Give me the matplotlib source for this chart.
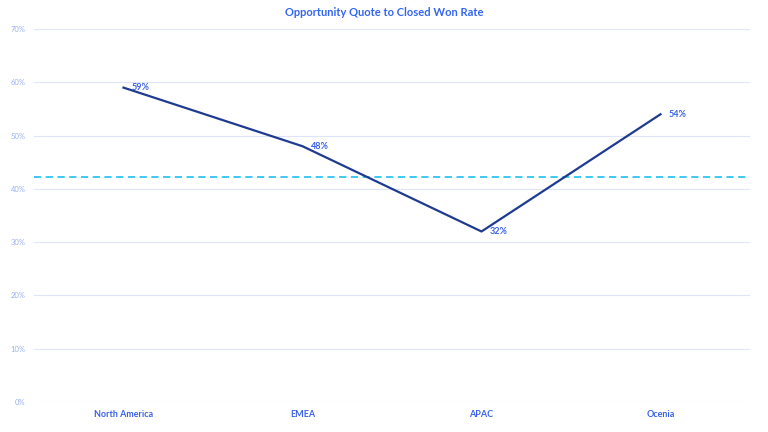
import matplotlib
matplotlib.use("Agg")
import matplotlib.pyplot as plt
from matplotlib.ticker import FuncFormatter, MultipleLocator

regions = ["North America", "EMEA", "APAC", "Ocenia"]
rates = [59, 48, 32, 54]
target = 42.2

plt.rcParams['font.family'] = ['Lato', 'DejaVu Sans']

fig = plt.figure(figsize=(7.68, 4.32), dpi=100)
ax = fig.add_axes([34/768, 1 - 402/432, (750-34)/768, (402-29)/432])

x = list(range(len(regions)))
ax.plot(x, rates, color="#1f3b8f", lw=1.6, zorder=3)
ax.axhline(target, color="#2ec5f2", lw=1.3, ls=(0, (4, 2.5)), zorder=2)
for xi, v in zip(x, rates):
    ax.annotate(f"{v}%", (xi, v), xytext=(6, 0), textcoords="offset points",
                ha="left", va="center", fontsize=6.5, fontweight="bold", color="#3a62e8")

ax.set_xlim(-0.5, 3.5)
ax.set_ylim(0, 70)
ax.yaxis.set_major_locator(MultipleLocator(10))
ax.yaxis.set_major_formatter(FuncFormatter(lambda v, p: f"{int(v)}%"))
ax.set_xticks(x)
ax.set_xticklabels(regions, fontsize=6.5, fontweight="bold", color="#3a62e8")
ax.tick_params(axis="y", labelsize=5.5, labelcolor="#9bb0f5", length=0, pad=6)
ax.tick_params(axis="x", length=0, pad=6)
ax.grid(axis="y", color="#dde5f7", lw=0.8)
ax.set_axisbelow(True)
for s in ax.spines.values():
    s.set_visible(False)

fig.text(0.5, 1 - 13/432, "Opportunity Quote to Closed Won Rate", ha="center", va="center",
         fontsize=8, color="#3366f0", fontweight="bold")

fig.savefig("out.png", dpi=100)
